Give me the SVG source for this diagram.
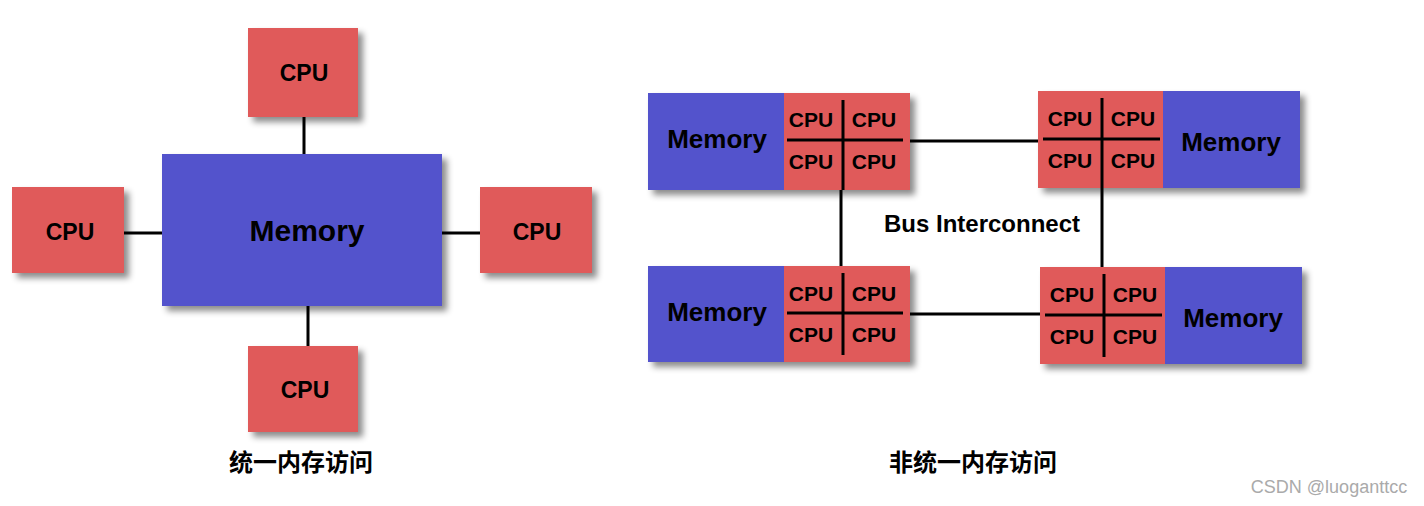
<svg xmlns="http://www.w3.org/2000/svg" width="1424" height="506" viewBox="0 0 1424 506">
<defs>
<filter id="sh" x="-10%" y="-10%" width="130%" height="130%"><feDropShadow dx="5" dy="5" stdDeviation="3" flood-color="#000" flood-opacity="0.45"/></filter>
</defs>
<style>
.cpu{fill:#e05a5a}
.mem{fill:#5252cc}
.t{font-family:"Liberation Sans",Arial,sans-serif;font-weight:bold;fill:#000;text-anchor:middle}
.c{font-size:23px}
.m{font-size:26px}
.M{font-size:30px}
.s{font-size:21px}
.b{font-size:24px}
.ln{stroke:#000;stroke-width:3;fill:none}
.cj{font-family:"Liberation Sans","Noto Sans CJK SC",sans-serif;font-weight:bold;font-size:24px;text-anchor:middle}
</style>
<rect width="1424" height="506" fill="#fff"/>
<g id="connectors" class="ln">
<path d="M304 117V154M124 233H162M442 233H480M308 306V346"/>
<path d="M910 141H1038M841 190V266M1102 188V267M910 314H1040"/>
</g>
<g id="uma-mem"><rect class="mem" x="162" y="154" width="280" height="152" filter="url(#sh)"/><text class="t M" x="307" y="241">Memory</text></g>
<g id="uma-cpu-top"><rect class="cpu" x="248" y="28" width="110" height="89" filter="url(#sh)"/><text class="t c" x="304" y="81">CPU</text></g>
<g id="uma-cpu-left"><rect class="cpu" x="12" y="187" width="112" height="86" filter="url(#sh)"/><text class="t c" x="70" y="240">CPU</text></g>
<g id="uma-cpu-right"><rect class="cpu" x="480" y="187" width="112" height="86" filter="url(#sh)"/><text class="t c" x="537" y="240">CPU</text></g>
<g id="uma-cpu-bottom"><rect class="cpu" x="248" y="346" width="110" height="86" filter="url(#sh)"/><text class="t c" x="305" y="398">CPU</text></g>

<g id="numa-tl">
<g filter="url(#sh)"><rect class="mem" x="648" y="93" width="136" height="97"/><rect class="cpu" x="784" y="93" width="126" height="97"/></g>
<text class="t m" x="717" y="148">Memory</text>
<path class="ln" d="M843 100V190M787 140H903"/>
<text class="t s" x="811" y="127">CPU</text><text class="t s" x="874" y="127">CPU</text>
<text class="t s" x="811" y="169">CPU</text><text class="t s" x="874" y="169">CPU</text>
</g>
<g id="numa-tr">
<g filter="url(#sh)"><rect class="cpu" x="1038" y="91" width="125" height="97"/><rect class="mem" x="1163" y="91" width="137" height="97"/></g>
<text class="t m" x="1231" y="151">Memory</text>
<path class="ln" d="M1102 98V188M1043 139H1160"/>
<text class="t s" x="1070" y="126">CPU</text><text class="t s" x="1133" y="126">CPU</text>
<text class="t s" x="1070" y="168">CPU</text><text class="t s" x="1133" y="168">CPU</text>
</g>
<g id="numa-bl">
<g filter="url(#sh)"><rect class="mem" x="648" y="266" width="136" height="96"/><rect class="cpu" x="784" y="266" width="126" height="96"/></g>
<text class="t m" x="717" y="321">Memory</text>
<path class="ln" d="M843 273V355M787 313H903"/>
<text class="t s" x="811" y="301">CPU</text><text class="t s" x="874" y="301">CPU</text>
<text class="t s" x="811" y="342">CPU</text><text class="t s" x="874" y="342">CPU</text>
</g>
<g id="numa-br">
<g filter="url(#sh)"><rect class="cpu" x="1040" y="267" width="125" height="97"/><rect class="mem" x="1165" y="267" width="137" height="97"/></g>
<text class="t m" x="1233" y="327">Memory</text>
<path class="ln" d="M1104 274V357M1045 315H1162"/>
<text class="t s" x="1072" y="302">CPU</text><text class="t s" x="1135" y="302">CPU</text>
<text class="t s" x="1072" y="344">CPU</text><text class="t s" x="1135" y="344">CPU</text>
</g>
<text class="t b" x="982" y="232">Bus Interconnect</text>
<text class="cj" x="301" y="471">统一内存访问</text>
<text class="cj" x="973" y="471">非统一内存访问</text>
<text x="1329" y="493" font-family="'Liberation Sans',Arial,sans-serif" font-size="18" fill="#aaa" text-anchor="middle">CSDN @luoganttcc</text>
</svg>
